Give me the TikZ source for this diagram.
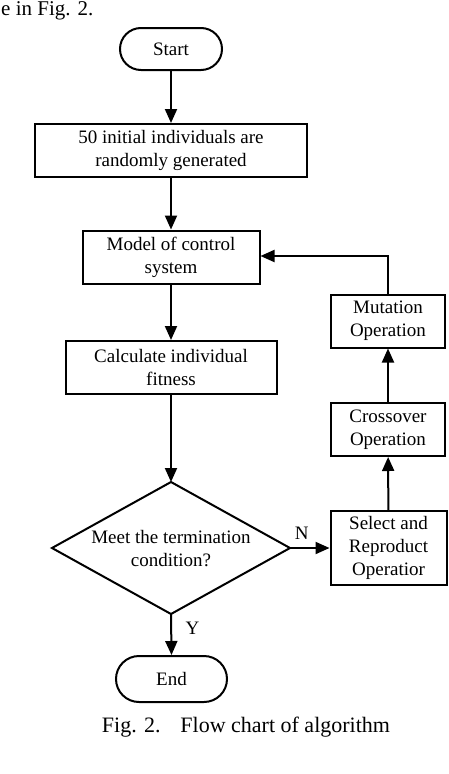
\documentclass[tikz,border=0pt]{standalone}
\usepackage{fontspec}
\setmainfont{Liberation Serif}
\usetikzlibrary{arrows.meta,shapes.misc}
\begin{document}
\begin{tikzpicture}[x=1pt,y=-1pt,
  every node/.style={font=\fontsize{19}{23}\selectfont},
  box/.style={draw,line width=2pt,minimum height=53pt,inner sep=0pt,align=center},
  term/.style={draw,line width=2pt,rounded rectangle,inner sep=0pt,align=center},
  flow/.style={line width=2pt,-{Triangle[length=14pt,width=12pt]}},
  lab/.style={font=\fontsize{19}{23}\selectfont}]
\useasboundingbox (0,0) rectangle (448,774);
\node[anchor=base west,inner sep=0pt,font=\fontsize{21}{23}\selectfont] (toptext) at (1,15) {e in Fig. 2.};
\node[term,minimum width=102pt,minimum height=42pt] (start) at (171,49) {Start};
\node[box,minimum width=272pt] (init) at (171,150.5) {50 initial individuals are\\randomly generated};
\node[box,minimum width=177pt] (model) at (171,257) {Model of control\\system};
\node[box,minimum width=211pt] (calc) at (171,367.5) {Calculate individual\\fitness};
\coordinate (dt) at (171,482);
\coordinate (dl) at (52,548);
\coordinate (dr) at (290,548);
\coordinate (db) at (171,614);
\draw[line width=2pt,line join=miter] (dt) -- (dr) -- (db) -- (dl) -- cycle;
\node[align=center] (cond) at (171,549) {Meet the termination\\condition?};
\node[box,minimum width=116pt,minimum height=74pt] (sel) at (388.5,548) {Select and\\Reproduct\\Operatior};
\node[box,minimum width=114pt] (cross) at (388,429.5) {Crossover\\Operation};
\node[box,minimum width=114pt] (mut) at (388,321) {Mutation\\Operation};
\node[term,minimum width=111pt,minimum height=46pt] (end) at (171.5,679) {End};
\node[font=\fontsize{22}{26}\selectfont] (cap) at (246,727) {Fig. 2.\hspace{0.9em}Flow chart of algorithm};
\draw[flow] (start) -- (init);
\draw[flow] (init) -- (model);
\draw[flow] (model) -- (calc);
\draw[flow] (calc.south) -- (dt);
\draw[flow] (dr) -- (sel.west) node[lab,pos=0.3,above=4pt] (nlab) {N};
\draw[flow] (sel) -- (cross);
\draw[flow] (cross) -- (mut);
\coordinate (corner) at (388,256);
\draw[flow] (mut.north) -- (corner) -- (model.east |- corner);
\draw[flow] (db) -- (end.north) node[lab,pos=0.35,right=10pt] (ylab) {Y};
\end{tikzpicture}
\end{document}
